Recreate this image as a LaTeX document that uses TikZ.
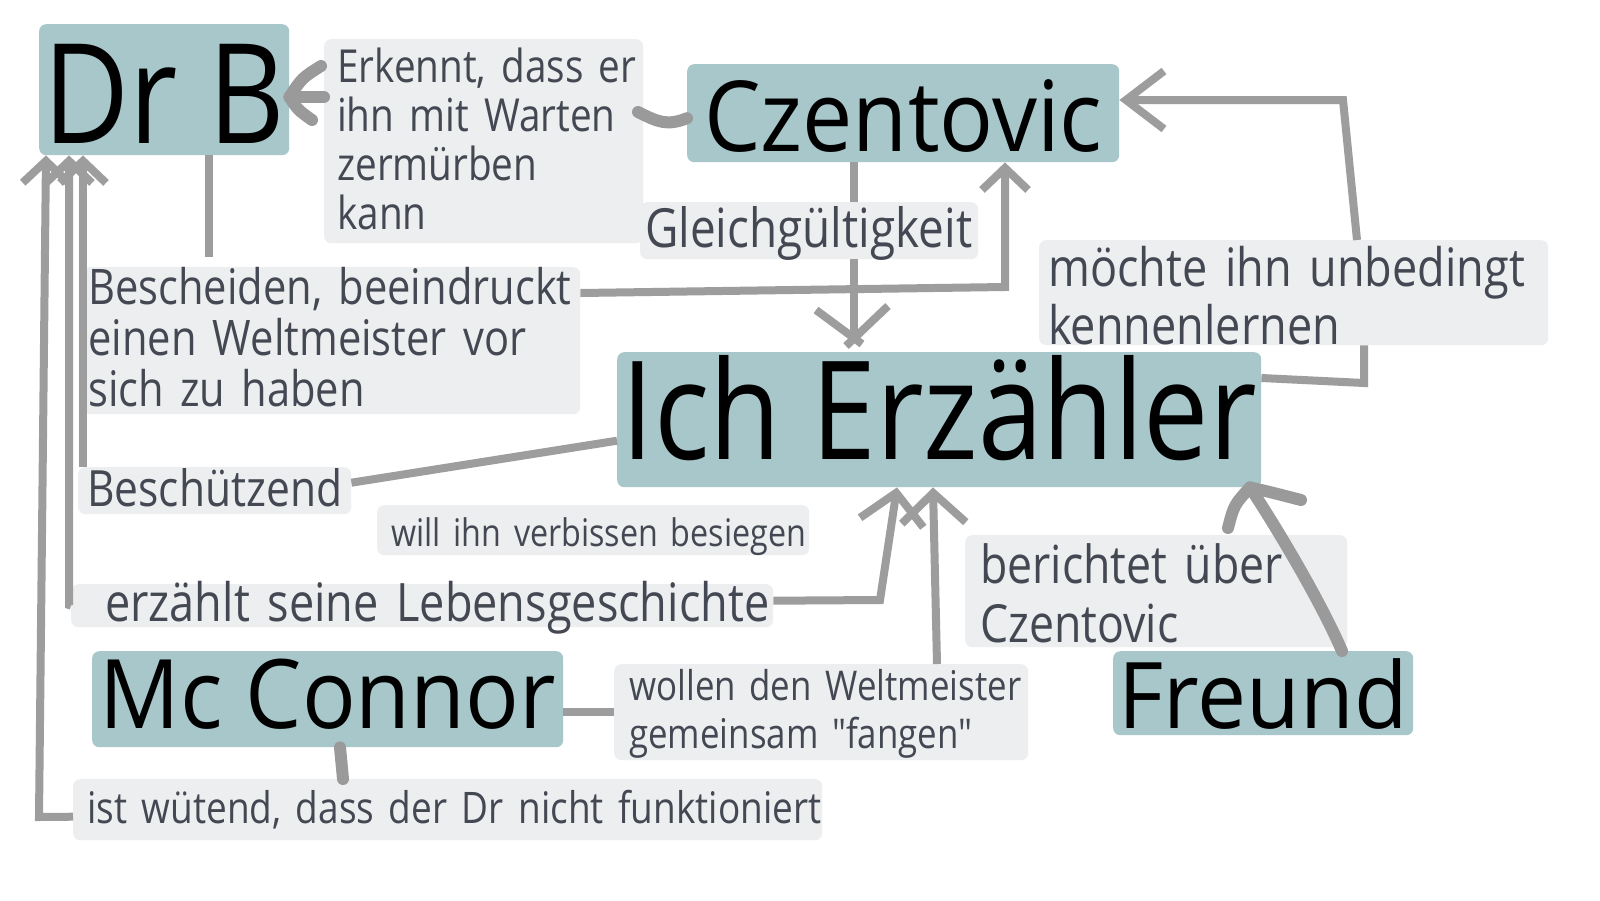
\documentclass[tikz,border=0pt]{standalone}
\usepackage{fontspec}
\setmainfont{Open Sans}[FakeStretch=0.85]
\newfontfamily\fcz{Open Sans}[FakeStretch=0.915]
\newfontfamily\fmc{Open Sans}[FakeStretch=0.93]
\newfontfamily\ffr{Open Sans}[FakeStretch=0.95]
\usetikzlibrary{arrows.meta}
\definecolor{boxteal}{HTML}{A7C7CA}
\definecolor{boxgray}{HTML}{EDEEF0}
\definecolor{linegray}{HTML}{9D9D9D}
\definecolor{brushgray}{HTML}{9A9A9A}
\definecolor{labeltext}{HTML}{434852}
\begin{document}
\begin{tikzpicture}[x=1pt,y=-1pt,
 tealbox/.style={fill=boxteal, rounded corners=7pt, inner xsep=0pt, inner ysep=0pt, anchor=north west, text=black},
 labbox/.style={fill=boxgray, rounded corners=7pt, inner ysep=0pt, anchor=north west, text=labeltext, align=left},
 conn/.style={draw=linegray, line width=8pt},
 brush/.style={draw=brushgray, line width=12pt, line cap=round, line join=round},
 arrs/.style={-{Straight Barb[length=22pt,width=46pt]}},
 arrl/.style={-{Straight Barb[length=30pt,width=64pt]}},
 arrr/.style={-{Straight Barb[length=38pt,width=58pt]}},
]
\useasboundingbox[fill=white] (0,0) rectangle (1600,900);

% main nodes
\node[tealbox, minimum width=250pt, minimum height=131pt, text height=119pt, text depth=12pt, font=\fontsize{139}{139}\selectfont] (drb) at (39,24) {Dr B};
\node[tealbox, minimum width=432pt, minimum height=98pt, text height=87pt, text depth=11pt, font=\fcz\fontsize{98}{98}\selectfont] (cz) at (687,64) {Czentovic};
\node[tealbox, minimum width=644pt, minimum height=135pt, text height=107pt, text depth=28pt, font=\fontsize{137}{137}\selectfont] (ich) at (617,352) {Ich Erzähler};
\node[tealbox, minimum width=471pt, minimum height=96pt, text height=77pt, text depth=19pt, font=\fmc\fontsize{96}{96}\selectfont] (mc) at (92,651) {Mc Connor};
\node[tealbox, minimum width=300pt, minimum height=84pt, text height=77pt, text depth=7pt, font=\ffr\fontsize{92}{92}\selectfont] (fr) at (1113,651) {Freund};

% label boxes
\node[labbox, minimum width=319pt, minimum height=204pt, inner xsep=13pt, text width=293pt, text height=43pt, text depth=161pt, font=\fontsize{45.5}{49}\selectfont] (erk) at (324,39) {\mbox{Erkennt, dass er}\\\mbox{ihn mit Warten}\\\mbox{zermürben}\\\mbox{kann}};
\node[labbox, minimum width=338pt, minimum height=57pt, inner xsep=5pt, text width=328pt, text height=45pt, text depth=12pt, font=\fontsize{54}{54}\selectfont] (gl) at (640,202) {\mbox{Gleichgültigkeit}};
\node[labbox, minimum width=498pt, minimum height=147pt, inner xsep=6pt, text width=486pt, text height=37pt, text depth=110pt, font=\fontsize{49}{51}\selectfont] (besch) at (82,267) {\mbox{Bescheiden, beeindruckt}\\\mbox{einen Weltmeister vor}\\\mbox{sich zu haben}};
\node[labbox, minimum width=509pt, minimum height=105pt, inner xsep=9pt, text width=491pt, text height=46pt, text depth=59pt, font=\fontsize{53}{58}\selectfont] (moe) at (1039,240) {\mbox{möchte ihn unbedingt}\\\mbox{kennenlernen}};
\node[labbox, minimum width=273pt, minimum height=47pt, inner xsep=9pt, text width=255pt, text height=39pt, text depth=8pt, font=\fontsize{50}{50}\selectfont] (bz) at (78,467) {\mbox{Beschützend}};
\node[labbox, minimum width=432pt, minimum height=50pt, inner xsep=14pt, text width=404pt, text height=41pt, text depth=9pt, font=\fontsize{38}{38}\selectfont] (wi) at (377,505) {\mbox{will ihn verbissen besiegen}};
\node[labbox, minimum width=702pt, minimum height=43pt, inner xsep=34pt, text width=634pt, text height=37pt, text depth=6pt, font=\fontsize{53}{53}\selectfont] (ez) at (71,584) {\mbox{erzählt seine Lebensgeschichte}};
\node[labbox, minimum width=382pt, minimum height=112pt, inner xsep=15pt, text width=352pt, text height=48pt, text depth=64pt, font=\fontsize{52.5}{59}\selectfont] (be) at (965,535) {\mbox{berichtet über}\\\mbox{Czentovic}};
\node[labbox, minimum width=414pt, minimum height=96pt, inner xsep=15pt, text width=384pt, text height=36pt, text depth=60pt, font=\fontsize{41}{48}\selectfont] (wl) at (614,664) {\mbox{wollen den Weltmeister}\\\mbox{gemeinsam {\addfontfeature{Ligatures=TeXOff}"fangen"}}};
\node[labbox, minimum width=749pt, minimum height=61pt, inner xsep=14pt, text width=721pt, text height=44pt, text depth=17pt, font=\fontsize{43.5}{43.5}\selectfont] (iw) at (73,779) {\mbox{ist wütend, dass der Dr nicht funktioniert}};

% helper coordinates
\coordinate (x209) at (209,0);
\coordinate (x854) at (854,0);
\coordinate (k1) at (1005,287);
\coordinate (k2) at (1364,383);
\coordinate (k3) at (1357,0);
\coordinate (k4) at (1343,100);
\coordinate (x83) at (83,0);
\coordinate (k5) at (69,605);
\coordinate (k6) at (39,817);
\coordinate (x46) at (46,0);
\coordinate (k7) at (880,600);
\coordinate (x897) at (897,0);
\coordinate (x937) at (937,0);
\coordinate (x933) at (933,0);
\coordinate (x340) at (340,0);
\coordinate (x343) at (343,0);
\coordinate (x1342) at (1342,0);
\coordinate (x1250) at (1250,0);
\coordinate (y97) at (0,97);
\coordinate (m1) at (638,112);
\coordinate (t1) at (drb.east |- y97);
\coordinate (t2) at (ich.south -| x1250);

% connectors
\draw[conn, shorten >=10pt] (drb.south -| x209) -- (besch.north -| x209);
\draw[conn] (cz.south -| x854) -- (gl.north -| x854);
\draw[conn, shorten >=12pt] (gl.south -| x854) -- (ich.north -| x854);
\draw[conn] (816,310) -- (862,344);
\draw[conn] (888,306) -- (846,346);
\draw[conn, arrs] ([yshift=-26pt]besch.north east) -- (k1) -- (cz.south -| k1);
\draw[conn] ([yshift=-26pt]ich.north east) -- (k2) -- (moe.south -| k2);
\draw[conn, arrr] (moe.north -| k3) -- (k4) -- (cz.east |- k4);
\draw[conn] ([yshift=8pt]bz.east) -- ([yshift=-21pt]ich.west);
\draw[conn, arrs] (bz.north -| x83) -- (drb.south -| x83);
\draw[conn, arrs] (ez.west) -- (k5) -- (drb.south -| k5);
\draw[conn, arrs] ([yshift=-7pt]iw.west) -- (k6) -- (drb.south -| x46);
\draw[conn, arrl] ([yshift=5pt]ez.east) -- (k7) -- (ich.south -| x897);
\draw[conn] (mc.east |- wl.west) -- (wl.west);
\draw[conn, arrl] (wl.north -| x937) -- (ich.south -| x933);
\draw[brush] (mc.south -| x340) -- (iw.north -| x343);
\draw[brush] ([yshift=-5pt]cz.west) .. controls +(-20,8) and +(20,10) .. (m1);
\draw[brush] (erk.west |- t1) -- (t1);
\draw[brush] (321,66) .. controls (302,78) .. (t1) .. controls (298,110) .. (312,120);
\draw[brush] (fr.north -| x1342) .. controls (1320,600) and (1275,525) .. (t2);
\draw[brush] (1228,528) .. controls (1234,505) .. (t2) .. controls (1270,492) .. (1301,500);
\end{tikzpicture}
\end{document}
